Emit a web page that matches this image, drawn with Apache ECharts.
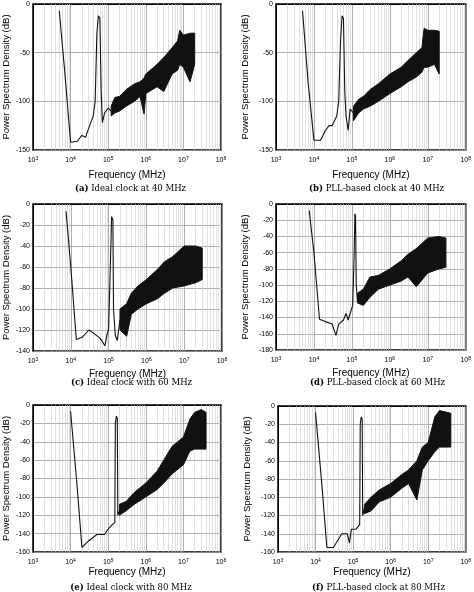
<!DOCTYPE html>
<html><head><meta charset="utf-8">
<script src="https://cdn.jsdelivr.net/npm/echarts@6/dist/echarts.min.js"></script>
<style>html,body{margin:0;padding:0;background:#fff}#c{width:474px;height:592px}</style>
</head><body><div id="c"></div>
<script>
// clean low-frequency traces: [MHz, dB]
const lineA=[[5e3,-7],[7e3,-70],[1e4,-142],[1.5e4,-141],[2e4,-135],[2.5e4,-137],[3e4,-128],[4e4,-115],[4.5e4,-100],[5e4,-30],[5.5e4,-12],[6e4,-15],[6.5e4,-90],[7e4,-122],[8e4,-112],[1e5,-107],[1.2e5,-110]];
const lineB=[[5e3,-7],[7e3,-80],[1e4,-140],[1.5e4,-140],[2e4,-130],[2.5e4,-125],[3e4,-125],[4e4,-115],[4.5e4,-100],[5e4,-40],[5.5e4,-12],[6e4,-15],[6.5e4,-90],[7e4,-115],[8e4,-130],[9e4,-108],[1.1e5,-112]];
const lineC=[[7.5e3,-7],[1e4,-60],[1.4e4,-129],[2e4,-127],[3e4,-120],[4e4,-123],[6e4,-128],[8e4,-135],[9e4,-125],[1e5,-119],[1.1e5,-118],[1.15e5,-40],[1.2e5,-12],[1.3e5,-15],[1.35e5,-100],[1.5e5,-125],[1.7e5,-130],[2e5,-110]];
const lineD=[[7.5e3,-8],[1e4,-60],[1.4e4,-142],[2e4,-145],[3e4,-148],[3.8e4,-162],[4.5e4,-148],[6e4,-143],[7e4,-135],[8e4,-143],[9e4,-135],[1.05e5,-125],[1.15e5,-60],[1.2e5,-12],[1.25e5,-15],[1.3e5,-100],[1.4e5,-120]];
const lineE=[[1e4,-7],[1.5e4,-90],[2e4,-155],[3e4,-148],[5e4,-141],[8e4,-141],[1e5,-135],[1.3e5,-130],[1.5e5,-128],[1.55e5,-20],[1.65e5,-12],[1.75e5,-15],[1.8e5,-120],[2e5,-115]];
const lineF=[[1e4,-7],[1.5e4,-90],[2e4,-155],[3e4,-155],[5e4,-140],[7e4,-140],[8e4,-150],[9e4,-135],[1.2e5,-135],[1.5e5,-130],[1.55e5,-20],[1.65e5,-12],[1.75e5,-15],[1.8e5,-120],[2e5,-112]];
// noisy high-frequency envelopes: [MHz, low dB, high dB]
const bandA=[[1.2e5,-115,-105],[1.5e5,-112,-96],[2e5,-110,-95],[3e5,-105,-88],[5e5,-100,-82],[7e5,-95,-80],[9e5,-113,-76],[1e6,-92,-72],[2e6,-85,-62],[3e6,-90,-55],[5e6,-72,-45],[7e6,-68,-38],[8e6,-62,-27],[1e7,-65,-32],[1.5e7,-80,-30],[2e7,-62,-30]];
const bandB=[[1.1e5,-120,-105],[1.5e5,-112,-98],[2e5,-108,-95],[3e5,-105,-88],[5e5,-100,-82],[1e6,-92,-72],[2e6,-85,-65],[3e6,-80,-58],[5e6,-75,-50],[7e6,-70,-45],[8e6,-65,-25],[1e7,-65,-27],[1.5e7,-62,-27],[2e7,-72,-28]];
const bandC=[[2e5,-120,-100],[3e5,-126,-95],[4e5,-105,-85],[6e5,-100,-78],[1e6,-95,-72],[2e6,-90,-62],[3e6,-85,-55],[5e6,-80,-50],[1e7,-78,-40],[2e7,-75,-40],[3e7,-72,-42]];
const bandD=[[1.4e5,-122,-110],[2e5,-125,-105],[3e5,-115,-90],[5e5,-105,-88],[1e6,-100,-80],[2e6,-95,-70],[3e6,-90,-62],[5e6,-102,-55],[1e7,-85,-42],[2e7,-80,-40],[3e7,-78,-42]];
const bandE=[[2e5,-120,-108],[3e5,-115,-105],[5e5,-108,-95],[1e6,-100,-85],[2e6,-92,-72],[3e6,-85,-60],[5e6,-75,-45],[1e7,-65,-35],[1.5e7,-50,-15],[2e7,-48,-8],[3e7,-48,-5],[4e7,-48,-8]];
const bandF=[[2e5,-118,-108],[3e5,-115,-100],[5e5,-105,-92],[1e6,-100,-85],[2e6,-90,-75],[3e6,-85,-70],[5e6,-103,-60],[7e6,-70,-45],[1e7,-60,-40],[1.5e7,-50,-12],[2e7,-45,-5],[4e7,-45,-8]];
const yMins=[-150,-150,-140,-180,-160,-160];
const yIntervals=[50,50,20,20,20,20];
const captionTags=['(a)','(b)','(c)','(d)','(e)','(f)'];
const captionTexts=['Ideal clock at 40 MHz','PLL-based clock at 40 MHz','Ideal clock with 60 MHz','PLL-based clock at 60 MHz','Ideal clock with 80 MHz','PLL-based clock at 80 MHz'];

const lines=[lineA,lineB,lineC,lineD,lineE,lineF];
const bands=[bandA,bandB,bandC,bandD,bandE,bandF];
const grids=[
 {left:30,width:191,top:4,height:146},
 {left:276,width:191,top:4,height:146},
 {left:31,width:191,top:204,height:147},
 {left:276,width:193,top:204,height:146},
 {left:31,width:190,top:405,height:147},
 {left:278,width:191,top:406,height:146}];
const capY=[179,179,373,373,578,578];
const nameGaps=[20,20,18,18,15,15];
const minor=[];
for(let e=3;e<8;e++)for(let m=2;m<=9;m++)minor.push({xAxis:m*Math.pow(10,e)});
const opt={animation:false,grid:[],xAxis:[],yAxis:[],series:[],title:[]};
for(let i=0;i<6;i++){
 const g=grids[i];
 const band=bands[i];
 opt.grid.push({left:g.left,width:g.width,top:g.top,height:g.height,containLabel:false,show:true,borderColor:'#000',borderWidth:1.5});
 opt.xAxis.push({type:'log',logBase:10,min:1e3,max:1e8,gridIndex:i,name:'Frequency (MHz)',nameLocation:'middle',nameGap:nameGaps[i],
  nameTextStyle:{fontFamily:'Liberation Sans',fontSize:10,color:'#000'},
  axisLine:{lineStyle:{color:'#000'}},axisTick:{show:false},
  axisLabel:{fontFamily:'Liberation Sans',fontSize:7,color:'#000',margin:6,
   formatter:v=>'10{s|'+Math.round(Math.log10(v))+'}',
   rich:{s:{fontSize:5,verticalAlign:'top',padding:[0,0,4,0],fontFamily:'Liberation Sans',color:'#000'}}},
  splitLine:{show:true,lineStyle:{color:'#999',width:0.8}}});
 opt.yAxis.push({type:'value',min:yMins[i],max:0,interval:yIntervals[i],gridIndex:i,name:'Power Spectrum Density (dB)',nameLocation:'middle',nameGap:i%2?26:22,
  nameTextStyle:{fontFamily:'Liberation Sans',fontSize:9.5,color:'#000'},
  axisLine:{lineStyle:{color:'#000'}},axisTick:{show:false},
  axisLabel:{fontFamily:'Liberation Sans',fontSize:7,color:'#000',margin:3},
  splitLine:{show:true,lineStyle:{color:'#999',width:0.8}}});
 opt.series.push({type:'line',xAxisIndex:i,yAxisIndex:i,data:lines[i],symbol:'none',lineStyle:{color:'#111',width:1.1},z:5,
  markLine:{silent:true,symbol:'none',label:{show:false},lineStyle:{color:'#ccc',width:0.6,type:'solid'},data:minor,z:1}});
 opt.series.push({type:'custom',xAxisIndex:i,yAxisIndex:i,coordinateSystem:'cartesian2d',data:band,z:5,
  encode:{x:0,y:[1,2]},
  renderItem:(params,api)=>{
   if(params.dataIndex!==0)return null;
   const pts=[];
   band.forEach(d=>pts.push(api.coord([d[0],d[2]])));
   for(let k=band.length-1;k>=0;k--)pts.push(api.coord([band[k][0],band[k][1]]));
   return {type:'polygon',shape:{points:pts},style:{fill:'#111',stroke:'#111',lineWidth:1}};
  }});
 opt.title.push({text:'{b|'+captionTags[i]+'} '+captionTexts[i],left:g.left+g.width/2,textAlign:'center',top:capY[i],
  textStyle:{fontFamily:'DejaVu Serif',fontSize:8.5,fontWeight:'normal',color:'#000',rich:{b:{fontFamily:'DejaVu Serif',fontSize:8.5,fontWeight:'bold'}}}});
}
const ch=echarts.init(document.getElementById('c'),null,{renderer:'canvas'});
ch.setOption(opt);
</script></body></html>
